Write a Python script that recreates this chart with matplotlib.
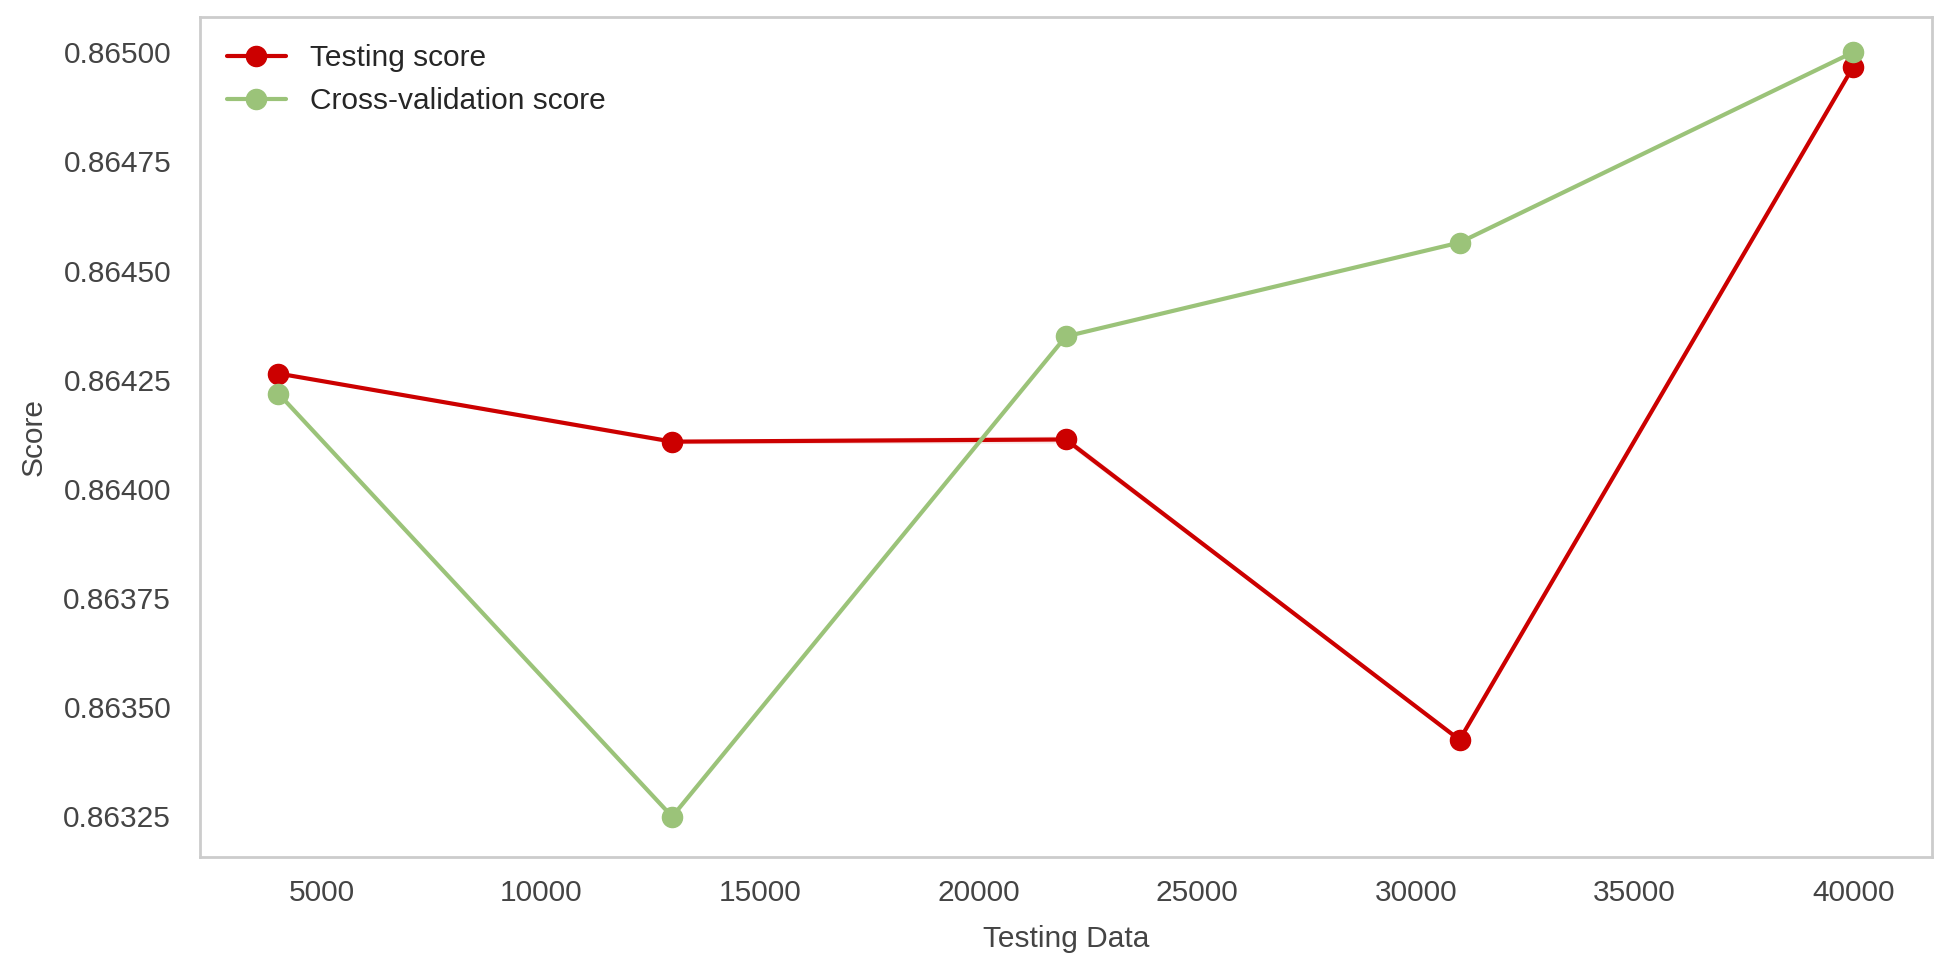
import numpy as np
import matplotlib
matplotlib.use("Agg")
import matplotlib.pyplot as plt
import seaborn as sns

train_sizes = [4000, 13000, 22000, 31000, 40000]
test_mean = [0.864264, 0.864108, 0.864113, 0.863425, 0.864967]
test_std = [0.000002, 0.000005, 0.000008, 0.000002, 0.000002]
cv_mean = [0.864218, 0.863249, 0.864349, 0.864564, 0.865000]
cv_std = [0.000001, 0.000001, 0.000001, 0.000001, 0.000001]

sns.set_style("whitegrid")
plt.rcParams['font.family'] = ['Liberation Sans', 'DejaVu Sans']

fig, ax = plt.subplots(figsize=(19.39, 9.6), dpi=100)
fig.subplots_adjust(left=0.103, right=0.9964, top=0.982, bottom=0.107)

x = np.array(train_sizes)
ax.fill_between(x, np.array(test_mean) - test_std, np.array(test_mean) + test_std,
                alpha=0.1, color="#cc0000", lw=0)
ax.fill_between(x, np.array(cv_mean) - cv_std, np.array(cv_mean) + cv_std,
                alpha=0.1, color="#9bc379", lw=0)
ax.plot(x, test_mean, 'o-', color="#cc0000", lw=3, ms=14.5, label="Testing score")
ax.plot(x, cv_mean, 'o-', color="#9bc379", lw=3, ms=14.5, label="Cross-validation score")

ax.set_ylim(0.863156, 0.865080)
ax.grid(False)
for s in ax.spines.values():
    s.set_color("#cccccc")
    s.set_linewidth(2)
ax.tick_params(labelsize=21.5, colors="#444444")
ax.tick_params(axis='y', pad=17)
ax.tick_params(axis='x', pad=12)
ax.set_xlabel("Testing Data", fontsize=21.5, color="#444444", labelpad=13)
ax.set_ylabel("Score", fontsize=21.5, color="#444444", labelpad=11)
ax.legend(loc="upper left", fontsize=21.5, frameon=False)

fig.savefig("out.png", dpi=100)
